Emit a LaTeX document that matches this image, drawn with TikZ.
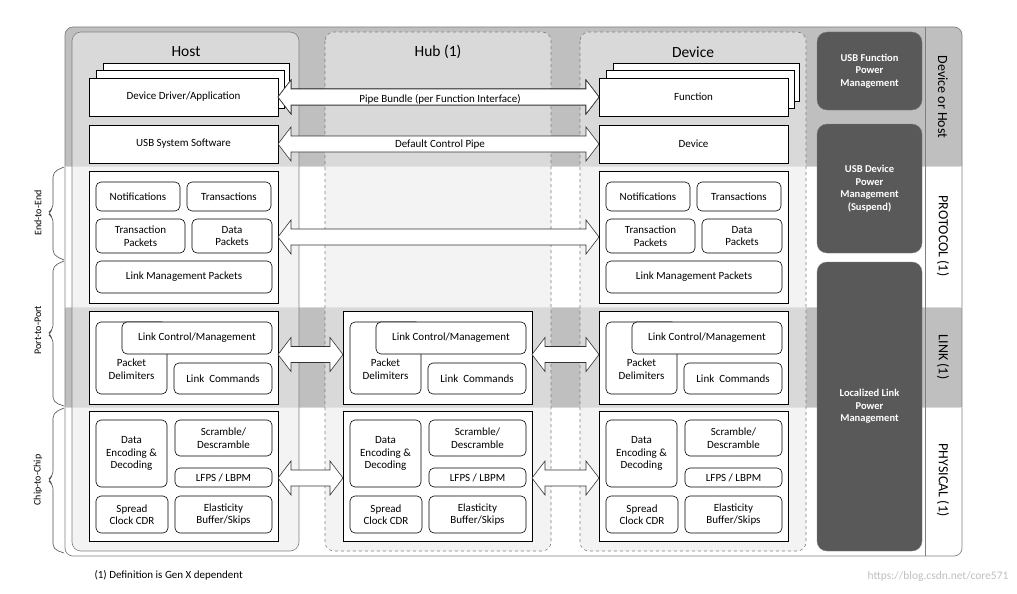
\documentclass[tikz,border=0pt]{standalone}
\usepackage{fontspec}
\setmainfont{Carlito}
\usetikzlibrary{calc}
\definecolor{band}{HTML}{BFBFBF}
\definecolor{dark}{HTML}{595959}
\tikzset{
 box/.style={draw,fill=white,line width=0.8pt,inner sep=0pt,outer sep=0pt,align=center,font=\fontsize{11}{12.5}\selectfont},
 rbox/.style={box,rounded corners=5pt,line width=0.6pt},
 col/.style={rounded corners=9pt,fill=black!8,fill opacity=0.6,draw=gray,line width=0.6pt},
 dbox/.style={fill=dark,draw=gray,rounded corners=10pt,text=white,align=center,inner sep=0pt,font=\bfseries\fontsize{10.5}{12.5}\selectfont},
 ar/.style={draw=black!80,fill=white,line width=0.6pt},
 vlab/.style={rotate=-90,font=\fontsize{14}{16}\selectfont},
 llab/.style={rotate=90,font=\fontsize{10}{12}\selectfont},
 brk/.style={draw=black!70,line width=0.6pt,rounded corners=5pt},
}
% name, x1, y1, x2, y2, style, text
\newcommand\bx[7]{\node[#6,minimum width={(#4)-(#2)},minimum height={(#5)-(#3)}] (#1) at ({((#2)+(#4))/2},{((#3)+(#5))/2}) {#7};}
% block arrow between two points, shaft half, head half
\newcommand\barr[4]{\path[ar] let \p1=#1, \p2=#2 in
 (\x1,\y1) -- (\x1+13pt,\y1+#4pt) -- (\x1+13pt,\y1+#3pt) -- (\x2-13pt,\y1+#3pt) -- (\x2-13pt,\y1+#4pt) -- (\x2,\y1)
 -- (\x2-13pt,\y1-#4pt) -- (\x2-13pt,\y1-#3pt) -- (\x1+13pt,\y1-#3pt) -- (\x1+13pt,\y1-#4pt) -- cycle;}
\begin{document}
\begin{tikzpicture}[x=1pt,y=-1pt]
\useasboundingbox (0,0) rectangle (1017,594);
% bands
\fill[white,rounded corners=8pt] (65,27) rectangle (962,556);
\fill[band,rounded corners=8pt] (65,27) rectangle (962,180);
\fill[white] (65,166) rectangle (962,307);
\fill[band] (65,307) rectangle (962,407);
\draw[gray,line width=0.7pt,rounded corners=8pt] (65,27) rectangle (962,556);
\draw[black!15,line width=0.6pt] (65,166) -- (962,166) (65,307) -- (962,307) (65,407) -- (962,407);
\draw[gray,line width=0.6pt] (925,27) -- (925,556);
% columns
\path[col] (72,32) rectangle (299,551);
\path[col,dashed] (325,32) rectangle (551,551);
\path[col,dashed] (580,32) rectangle (806,551);
\node[font=\fontsize{15.5}{17}\selectfont] (hh) at (186,52) {Host};
\node[font=\fontsize{15.5}{17}\selectfont] (hb) at (438,52) {Hub (1)};
\node[font=\fontsize{15.5}{17}\selectfont] (hd) at (693,52) {Device};
% dark boxes
\bx{pf}{817}{32}{922}{110}{dbox}{USB Function\\Power\\Management}
\bx{pd}{817}{124}{922}{253}{dbox}{USB Device\\Power\\Management\\(Suspend)}
\bx{pl}{817}{262}{922}{551}{dbox}{Localized Link\\Power\\Management}
% right labels
\node[vlab] (v1) at (943,97) {Device or Host};
\node[vlab] (v2) at (943,236) {PROTOCOL (1)};
\node[vlab] (v3) at (943,357) {LINK (1)};
\node[vlab] (v4) at (943,480) {PHYSICAL (1)};
% left brackets
\draw[brk] (64,167) -- (53,172) -- (53,209) -- (47,213) -- (53,217) -- (53,255) -- (64,260);
\draw[brk] (64,261) -- (53,266) -- (53,330) -- (47,334) -- (53,338) -- (53,402) -- (64,406);
\draw[brk] (64,408) -- (53,413) -- (53,476) -- (47,480) -- (53,484) -- (53,549) -- (64,553);
\node[llab] (l1) at (38,213) {End-to-End};
\node[llab] (l2) at (38,330) {Port-to-Port};
\node[llab] (l3) at (38,480) {Chip-to-Chip};
% top boxes host/device
\foreach \o/\n in {0/h,510/d}{
 \bx{s2\n}{103+\o}{63}{289+\o}{101}{box}{}
 \bx{s1\n}{96+\o}{70}{284+\o}{108}{box}{}
}
\bx{toph}{89}{78}{278}{116}{box}{Device Driver/Application}
\bx{topd}{599}{78}{788}{116}{box}{Function}
\bx{sysh}{89}{125}{278}{163}{box}{USB System Software}
\bx{sysd}{599}{125}{788}{163}{box}{Device}
% protocol
\foreach \o/\n in {0/h,510/d}{
 \bx{pr\n}{89+\o}{171}{278+\o}{303}{box}{}
 \bx{no\n}{96+\o}{182}{180+\o}{211}{rbox}{Notifications}
 \bx{tr\n}{187+\o}{182}{271+\o}{211}{rbox}{Transactions}
 \bx{tp\n}{96+\o}{219}{185+\o}{253}{rbox}{Transaction\\Packets}
 \bx{dp\n}{192+\o}{219}{272+\o}{253}{rbox}{Data\\Packets}
 \bx{lm\n}{96+\o}{261}{272+\o}{293}{rbox}{Link Management Packets}
}
% link and physical
\foreach \o/\n in {0/h,254/b,510/d}{
 \bx{lk\n}{89+\o}{311}{278+\o}{404}{box}{}
 \bx{pk\n}{96+\o}{322}{167+\o}{394}{rbox}{\\[18pt]Packet\\Delimiters}
 \bx{lc\n}{122+\o}{322}{272+\o}{354}{rbox}{Link Control/Management}
 \bx{lco\n}{174+\o}{363}{272+\o}{394}{rbox}{Link\ \ Commands}
 \bx{ph\n}{89+\o}{411}{278+\o}{541}{box}{}
 \bx{de\n}{96+\o}{420}{167+\o}{487}{rbox}{Data\\Encoding \&\\Decoding}
 \bx{sc\n}{175+\o}{420}{272+\o}{456}{rbox}{Scramble/\\Descramble}
 \bx{lf\n}{175+\o}{468}{272+\o}{487}{rbox}{LFPS / LBPM}
 \bx{sp\n}{96+\o}{496}{168+\o}{533}{rbox}{Spread\\Clock CDR}
 \bx{el\n}{175+\o}{496}{272+\o}{533}{rbox}{Elasticity\\Buffer/Skips}
}
% arrows
\begin{scope}[shift={(12,-13)}]\barr{(toph.east)}{(topd.west)}{8}{17}\end{scope}
\begin{scope}[shift={(6,-7)}]\barr{(toph.east)}{(topd.west)}{8}{17}\end{scope}
\barr{(toph.east)}{(topd.west)}{8}{17}
\node[font=\fontsize{11}{12.5}\selectfont] (pb) at (440,99) {Pipe Bundle (per Function Interface)};
\barr{(sysh.east)}{(sysd.west)}{8}{17}
\node[font=\fontsize{11}{12.5}\selectfont] (dc) at (440,145) {Default Control Pipe};
\barr{(prh.east)}{(prd.west)}{8}{17}
\barr{($(lkh.east)+(0,-3)$)}{($(lkb.west)+(0,-3)$)}{8}{17}
\barr{($(lkb.east)+(0,-3)$)}{($(lkd.west)+(0,-3)$)}{8}{17}
\barr{($(phh.east)+(0,2)$)}{($(phb.west)+(0,2)$)}{8}{17}
\barr{($(phb.east)+(0,2)$)}{($(phd.west)+(0,2)$)}{8}{17}
% footnote and watermark
\node[anchor=west,font=\fontsize{11}{12.5}\selectfont] (fn) at (91,575) {(1) Definition is Gen X dependent};
\node[anchor=east,text=black!25,font=\fontsize{11.5}{13}\selectfont] (wm) at (1012,576) {https://blog.csdn.net/core571};
\end{tikzpicture}
\end{document}
